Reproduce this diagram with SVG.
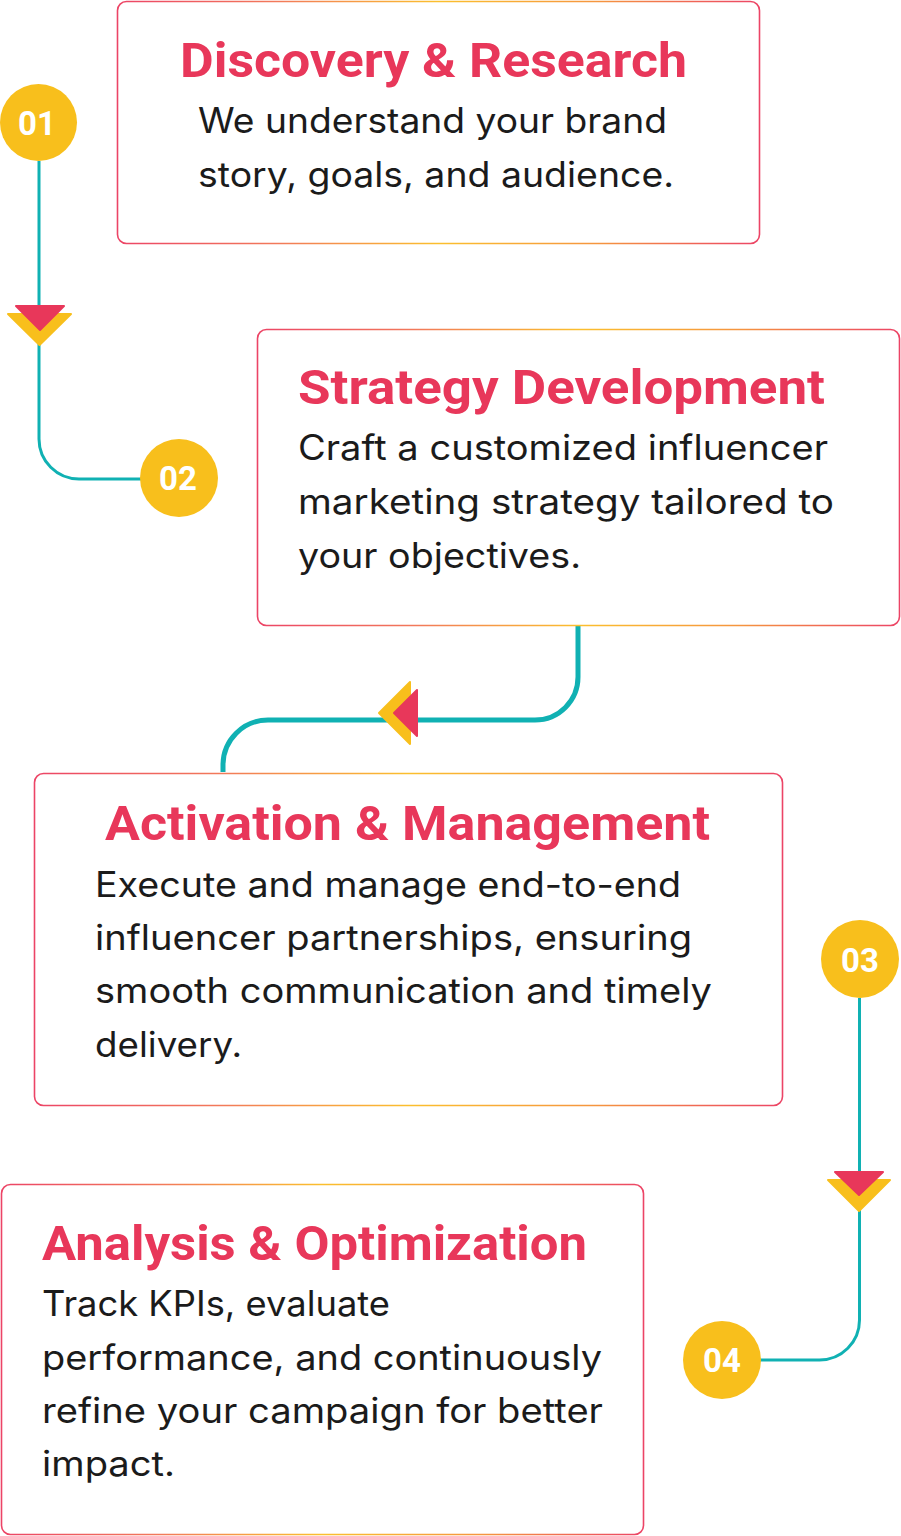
<svg xmlns="http://www.w3.org/2000/svg" width="901" height="1536" viewBox="0 0 901 1536">
<defs>
<linearGradient id="bd" x1="0" y1="0" x2="1" y2="0">
<stop offset="0" stop-color="#ec4466"/>
<stop offset="0.25" stop-color="#f27a5a"/>
<stop offset="0.5" stop-color="#fbbf2e"/>
<stop offset="0.75" stop-color="#f5953f"/>
<stop offset="1" stop-color="#ec4466"/>
</linearGradient>
</defs>
<style>
.box{fill:#fff;stroke:url(#bd);stroke-width:1.6}
.t{font-family:Roboto,"Liberation Sans",sans-serif;font-weight:700;font-size:48px;fill:#e8375a}
.b{font-family:Inter,"Liberation Sans",sans-serif;font-weight:400;font-size:35px;fill:#1b1b1b}
.c{fill:#f8bf1c}
.n{font-family:Roboto,"Liberation Sans",sans-serif;font-weight:700;font-size:33px;fill:#fff;text-anchor:middle}
.ln{fill:none;stroke:#10b1b3;stroke-width:3;stroke-linecap:butt}
.ay{fill:#f8bf1c;stroke:#f8bf1c;stroke-width:2;stroke-linejoin:round}
.ar{fill:#e8375a;stroke:#e8375a;stroke-width:2;stroke-linejoin:round}
</style>
<rect width="901" height="1536" fill="#fff"/>

<g id="connectors">
<path class="ln" d="M39 161 V439 A40 40 0 0 0 79 479 H141"/>
<path class="ln" style="stroke-width:5" d="M578 622 V677 A43 43 0 0 1 535 720 H268 A45 45 0 0 0 223 765 V772"/>
<path class="ln" d="M859.5 998 V1320 A40 40 0 0 1 819.5 1360 H760"/>
<polygon class="ay" points="8,314 71,314 39.5,345"/>
<polygon class="ar" points="16,306 64,306 40,330"/>
<polygon class="ay" points="379,713 410,682 410,744"/>
<polygon class="ar" points="394,713 417,690 417,736"/>
<polygon class="ay" points="828,1180 890,1180 859,1211"/>
<polygon class="ar" points="835,1172 883,1172 859,1195"/>
</g>

<g id="node1">
<rect class="box" x="117.5" y="1.5" width="642" height="242" rx="9"/>
<text class="t" x="180" y="77" textLength="507" lengthAdjust="spacingAndGlyphs">Discovery &amp; Research</text>
<text class="b" x="198" y="133" textLength="469" lengthAdjust="spacingAndGlyphs">We understand your brand</text>
<text class="b" x="198" y="187" textLength="476" lengthAdjust="spacingAndGlyphs">story, goals, and audience.</text>
</g>

<g id="node2">
<rect class="box" x="257.5" y="329.5" width="642" height="296" rx="9"/>
<text class="t" x="298" y="404" textLength="527" lengthAdjust="spacingAndGlyphs">Strategy Development</text>
<text class="b" x="298" y="460" textLength="530" lengthAdjust="spacingAndGlyphs">Craft a customized influencer</text>
<text class="b" x="298" y="514" textLength="536" lengthAdjust="spacingAndGlyphs">marketing strategy tailored to</text>
<text class="b" x="298" y="568" textLength="283" lengthAdjust="spacingAndGlyphs">your objectives.</text>
</g>

<g id="node3">
<rect class="box" x="34.5" y="773.5" width="748" height="332" rx="9"/>
<text class="t" x="105" y="840" textLength="605" lengthAdjust="spacingAndGlyphs">Activation &amp; Management</text>
<text class="b" x="95" y="897" textLength="586" lengthAdjust="spacingAndGlyphs">Execute and manage end-to-end</text>
<text class="b" x="95" y="950" textLength="597" lengthAdjust="spacingAndGlyphs">influencer partnerships, ensuring</text>
<text class="b" x="95" y="1003" textLength="617" lengthAdjust="spacingAndGlyphs">smooth communication and timely</text>
<text class="b" x="95" y="1057" textLength="147" lengthAdjust="spacingAndGlyphs">delivery.</text>
</g>

<g id="node4">
<rect class="box" x="1.5" y="1184.5" width="642" height="350" rx="9"/>
<text class="t" x="42" y="1260" textLength="545" lengthAdjust="spacingAndGlyphs">Analysis &amp; Optimization</text>
<text class="b" x="42" y="1316" textLength="348" lengthAdjust="spacingAndGlyphs">Track KPIs, evaluate</text>
<text class="b" x="42" y="1370" textLength="560" lengthAdjust="spacingAndGlyphs">performance, and continuously</text>
<text class="b" x="42" y="1423" textLength="561" lengthAdjust="spacingAndGlyphs">refine your campaign for better</text>
<text class="b" x="42" y="1476" textLength="133" lengthAdjust="spacingAndGlyphs">impact.</text>
</g>

<g id="step01"><circle class="c" cx="38.5" cy="122.5" r="38.5"/><text class="n" x="37" y="135">01</text></g>
<g id="step02"><circle class="c" cx="179" cy="478" r="39"/><text class="n" x="178" y="490">02</text></g>
<g id="step03"><circle class="c" cx="860" cy="959" r="39"/><text class="n" x="860" y="972">03</text></g>
<g id="step04"><circle class="c" cx="722" cy="1360" r="39"/><text class="n" x="722" y="1372">04</text></g>
</svg>
